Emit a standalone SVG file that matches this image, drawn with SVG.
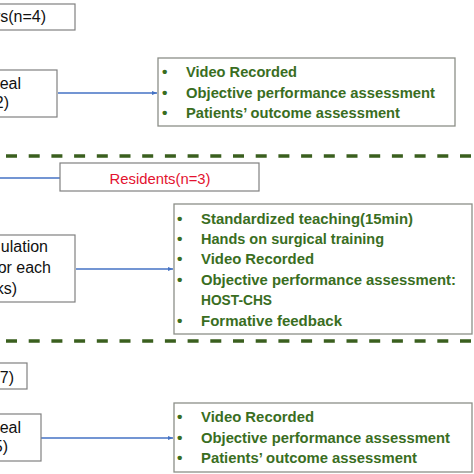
<svg xmlns="http://www.w3.org/2000/svg" width="474" height="474" viewBox="0 0 474 474">
<style>
.box{fill:#fff;stroke:#808080;stroke-width:1.2}
.gbox{fill:#fff;stroke:#8c8f88;stroke-width:1.3}
.lt{font-family:"Liberation Sans",Arial,sans-serif;font-size:16px;fill:#111;text-anchor:end}
.gt{font-family:"Liberation Sans",Arial,sans-serif;font-size:15.5px;font-weight:bold;fill:#3a6e1f}
.red{font-family:"Liberation Sans",Arial,sans-serif;font-size:15.5px;fill:#e3122f;text-anchor:middle}
.conn{stroke:#4472c4;stroke-width:1.3;fill:none}
.dash{stroke:#3a5f1e;stroke-width:3.5;stroke-dasharray:11 11.7;fill:none}
</style>
<defs>
<marker id="ah" viewBox="0 0 10 10" refX="10" refY="5" markerWidth="5" markerHeight="5" orient="auto" markerUnits="userSpaceOnUse">
<path d="M0,1 L10,5 L0,9 z" fill="#4472c4"/>
</marker>
</defs>
<rect width="474" height="474" fill="#fff"/>
<g id="dividers">
<line class="dash" x1="6" y1="156" x2="474" y2="156"/>
<line class="dash" x1="6" y1="341" x2="474" y2="341"/>
</g>
<g id="connectors">
<line class="conn" x1="58" y1="93" x2="157" y2="93" marker-end="url(#ah)"/>
<line class="conn" x1="0" y1="178" x2="60" y2="178"/>
<line class="conn" x1="76" y1="269" x2="173" y2="269" marker-end="url(#ah)"/>
<line class="conn" x1="41" y1="438" x2="173" y2="438" marker-end="url(#ah)"/>
</g>
<g id="node-top">
<rect class="box" x="-10" y="4" width="85" height="26"/>
<text class="lt" x="46" y="22">rs(n=4)</text>
</g>
<g id="node-group1">
<rect class="box" x="-10" y="70" width="67" height="47"/>
<text class="lt" x="21" y="89">eal</text>
<text class="lt" x="9" y="108">2)</text>
</g>
<g id="node-list1">
<rect class="gbox" x="158" y="58" width="297" height="68"/>
<text class="gt" x="162" y="77">•</text>
<text class="gt" x="162" y="98">•</text>
<text class="gt" x="162" y="118">•</text>
<text class="gt" x="186" y="77" textLength="111" lengthAdjust="spacingAndGlyphs">Video Recorded</text>
<text class="gt" x="186" y="98" textLength="249" lengthAdjust="spacingAndGlyphs">Objective performance assessment</text>
<text class="gt" x="186" y="118" textLength="214" lengthAdjust="spacingAndGlyphs">Patients’ outcome assessment</text>
</g>
<g id="node-residents">
<rect class="box" x="60" y="163" width="199" height="28"/>
<text class="red" x="160" y="184" textLength="101" lengthAdjust="spacingAndGlyphs">Residents(n=3)</text>
</g>
<g id="node-simulation">
<rect class="box" x="-10" y="235" width="85" height="67"/>
<text class="lt" x="48" y="252">ulation</text>
<text class="lt" x="51" y="273">or each</text>
<text class="lt" x="17" y="294">ks)</text>
</g>
<g id="node-list2">
<rect class="gbox" x="174" y="204" width="298" height="130"/>
<text class="gt" x="177" y="224">•</text>
<text class="gt" x="177" y="244">•</text>
<text class="gt" x="177" y="264">•</text>
<text class="gt" x="177" y="285">•</text>
<text class="gt" x="177" y="326">•</text>
<text class="gt" x="201" y="224" textLength="212" lengthAdjust="spacingAndGlyphs">Standardized teaching(15min)</text>
<text class="gt" x="201" y="244" textLength="183" lengthAdjust="spacingAndGlyphs">Hands on surgical training</text>
<text class="gt" x="201" y="264" textLength="113" lengthAdjust="spacingAndGlyphs">Video Recorded</text>
<text class="gt" x="201" y="285" textLength="255" lengthAdjust="spacingAndGlyphs">Objective performance assessment:</text>
<text class="gt" x="201" y="305" textLength="71" lengthAdjust="spacingAndGlyphs">HOST-CHS</text>
<text class="gt" x="201" y="326" textLength="141" lengthAdjust="spacingAndGlyphs">Formative feedback</text>
</g>
<g id="node-bottom">
<rect class="box" x="-10" y="363" width="37" height="26"/>
<text class="lt" x="14" y="383">7)</text>
</g>
<g id="node-group3">
<rect class="box" x="-10" y="414" width="51" height="47"/>
<text class="lt" x="21" y="433">eal</text>
<text class="lt" x="8" y="452">5)</text>
</g>
<g id="node-list3">
<rect class="gbox" x="174" y="403" width="298" height="69"/>
<text class="gt" x="177" y="422">•</text>
<text class="gt" x="177" y="443">•</text>
<text class="gt" x="177" y="463">•</text>
<text class="gt" x="201" y="422" textLength="113" lengthAdjust="spacingAndGlyphs">Video Recorded</text>
<text class="gt" x="201" y="443" textLength="249" lengthAdjust="spacingAndGlyphs">Objective performance assessment</text>
<text class="gt" x="201" y="463" textLength="216" lengthAdjust="spacingAndGlyphs">Patients’ outcome assessment</text>
</g>
</svg>
